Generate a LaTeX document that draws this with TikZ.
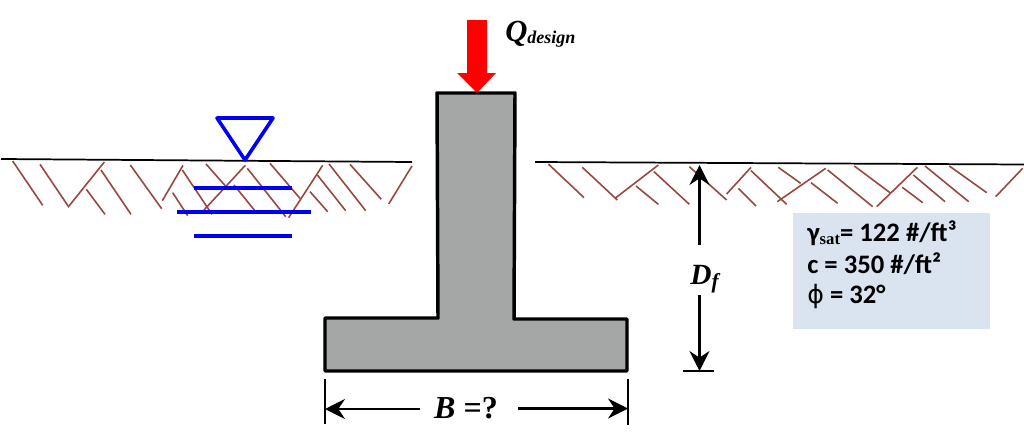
\documentclass[tikz,border=0pt]{standalone}
\usepackage{fontspec}
\usetikzlibrary{arrows.meta}
\setmainfont{Liberation Serif}
\newfontfamily\calib{Carlito}
\newfontfamily\dejav{DejaVu Sans}
\definecolor{hatchred}{HTML}{98483F}
\definecolor{wblue}{HTML}{0000F0}
\definecolor{conc}{HTML}{A5A6A6}
\definecolor{panel}{HTML}{DAE3F0}
\tikzset{
  hatch/.style={draw=hatchred,line width=1.2pt},
  ground/.style={draw=black,line width=1.3pt},
  water/.style={draw=wblue,line width=2.3pt},
  dim/.style={draw=black,line width=1.7pt},
  dimtip/.style={-{Stealth[length=15pt,width=15pt,inset=5pt]}},
  tick/.style={draw=black,line width=1pt},
  lab/.style={font=\bfseries\itshape,inner sep=0pt,text=black},
  info/.style={font=\calib\bfseries\fontsize{20}{22}\selectfont,anchor=west,inner sep=0pt,text=black}
}
\begin{document}
\begin{tikzpicture}[x=0.75pt,y=-0.75pt]
\useasboundingbox (0,0) rectangle (1024,446);
% ground lines
\coordinate (gl1) at (1,159); \coordinate (gl2) at (412,162);
\coordinate (gr1) at (535,162); \coordinate (gr2) at (1024,164.5);
\draw[ground] (gl1) -- (gl2);
\draw[ground] (gr1) -- (gr2);
% left hatching
\begin{scope}[x=0.25pt,y=-0.25pt,shift={(0,300)}]
\foreach \a/\b/\c/\d in {38/183/128/316,120/193/207/322,207/318/313/186,303/210/393/343,259/268/315/343,391/195/485/326,487/302/549/196,547/210/636/343,518/278/563/347,618/192/680/262,736/196/612/330,702/255/767/335,742/205/857/350,810/190/900/295,968/196/866/353,952/225/1037/332,930/275/983/335,987/192/1097/332,1050/193/1144/298,1236/198/1166/312}
  \draw[hatch] (\a,\b) -- (\c,\d);
\end{scope}
% right hatching
\begin{scope}[x=0.25pt,y=-0.25pt,shift={(1590,450)}]
\foreach \a/\b/\c/\d in {55/42/162/143,157/52/262/150,255/145/385/45,372/65/478/163,318/108/385/163,478/50/590/150,590/132/663/52,625/115/678/168,663/62/770/163,745/52/812/100,742/155/887/55,843/98/923/160,893/60/1028/170,973/48/1080/128,1040/170/1162/52,1117/112/1178/158,1150/75/1245/155,1185/48/1316/155,1258/48/1370/128,1397/140/1478/55}
  \draw[hatch] (\a,\b) -- (\c,\d);
\end{scope}
% water table
\draw[water,line join=round,line width=2.7pt] (217,118) -- (273,118) -- (245,160) -- cycle;
\draw[water] (194,188) -- (292,188);
\draw[water] (177,212) -- (311,212);
\draw[water] (194,236) -- (292,236);
% footing
\draw[draw=black,fill=conc,line width=2.6pt,line join=round] (437,93) -- (515,93) -- (514,319) -- (627,319) -- (627,371) -- (325,371) -- (325,318) -- (438,318) -- cycle;
% load
\fill[red] (467,20) -- (487,20) -- (487,73) -- (496,73) -- (477,93) -- (457,73) -- (467,73) -- cycle;
\node[lab,anchor=base west] (q) at (505,41) {\fontsize{23}{24}\selectfont Q\raisebox{-2pt}{\fontsize{13.5}{15}\selectfont design}};
% Df dimension
\node[lab] (df) at (704.5,279) {\fontsize{22}{24}\selectfont D\raisebox{-3.5pt}{\fontsize{16}{15}\selectfont f}};
\coordinate (dftop) at (699.5,165);
\coordinate (dfup) at (699.5,245);
\coordinate (dfdown) at (699.5,295);
\coordinate (dfbot) at (699.5,371);
\coordinate (dft1) at (683,371); \coordinate (dft2) at (714,371);
\draw[dim,dimtip] (dfup) -- (dftop);
\draw[dim,dimtip] (dfdown) -- (dfbot);
\draw[tick] (dft1) -- (dft2);
% B dimension
\node[lab] (b) at (466,408) {\fontsize{24}{24}\selectfont B {\upshape =?}};
\coordinate (bl1) at (325,379); \coordinate (bl2) at (325,424);
\coordinate (br1) at (628,379); \coordinate (br2) at (628,425);
\coordinate (bla) at (325,409); \coordinate (blb) at (420,409);
\coordinate (bra) at (518,408.5); \coordinate (brb) at (628,408.5);
\draw[tick] (bl1) -- (bl2);
\draw[tick] (br1) -- (br2);
\draw[dim,dimtip] (blb) -- (bla);
\draw[dim,dimtip] (bra) -- (brb);
% soil properties
\node[fill=panel,minimum width=147.75pt,minimum height=87pt,inner sep=0pt,anchor=north west] (panel) at (793,213) {};
\node[info] (l1) at (807,233) {γ\raisebox{-2.5pt}{\rmfamily\bfseries\upshape\fontsize{12.5}{12}\selectfont sat}= 122 \#/ft³};
\node[info] (l2) at (807,264) {c = 350 \#/ft²};
\node[info] (l3) at (807,297) {{\dejav\mdseries\fontsize{19}{18}\selectfont ϕ} = 32°};
\end{tikzpicture}
\end{document}
